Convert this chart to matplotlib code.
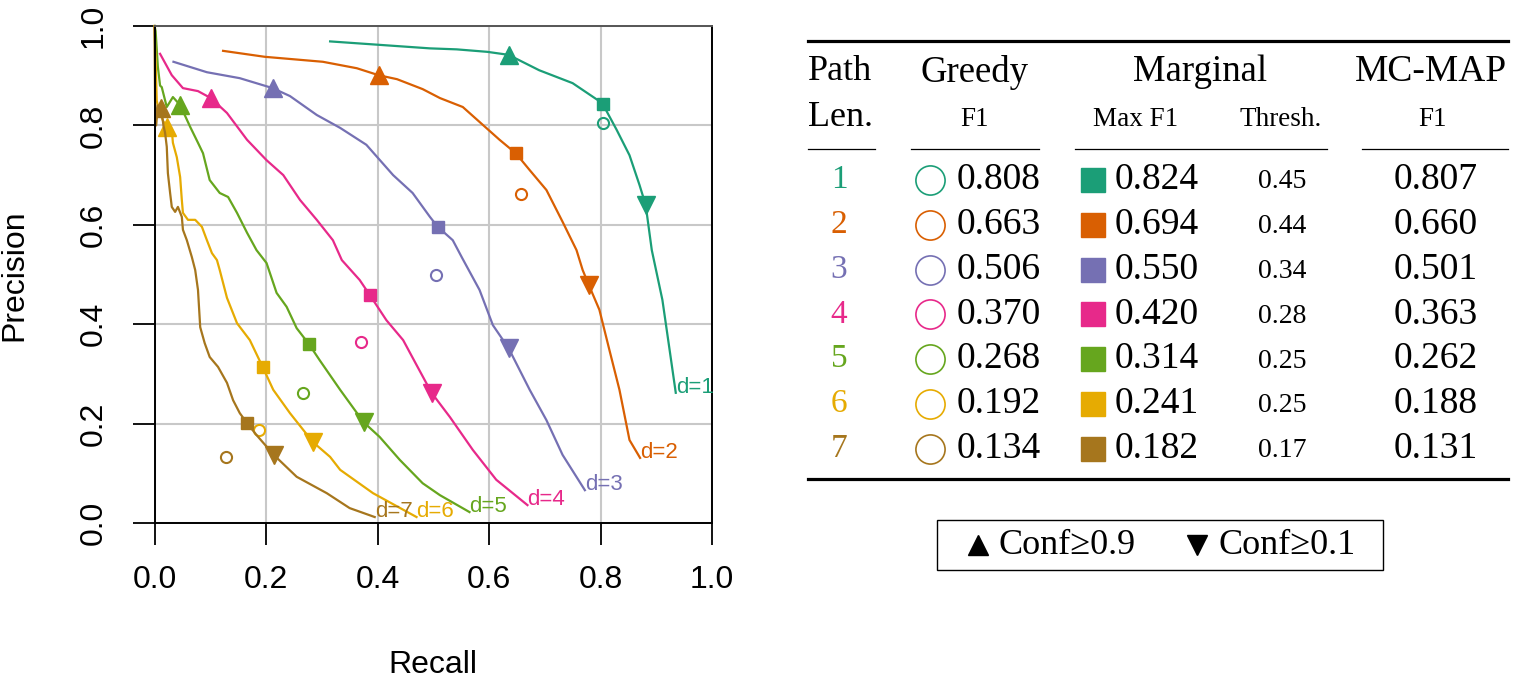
import matplotlib.pyplot as plt
from matplotlib.patches import Rectangle

# Dark2 colours, one per path length
colors = ['#1B9E77', '#D95F02', '#7570B3', '#E7298A', '#66A61E', '#E6AB02', '#A6761D']
path_len = ['1', '2', '3', '4', '5', '6', '7']

# precision/recall curves (recall, precision)
d1_r = [0.315, 0.494, 0.542, 0.597, 0.635, 0.690, 0.750, 0.795, 0.804, 0.829, 0.852, 0.870, 0.881, 0.892, 0.911, 0.924, 0.935]
d1_p = [0.969, 0.955, 0.953, 0.948, 0.942, 0.911, 0.885, 0.851, 0.843, 0.791, 0.740, 0.680, 0.640, 0.549, 0.449, 0.348, 0.262]
d2_r = [0.123, 0.198, 0.302, 0.363, 0.402, 0.435, 0.481, 0.512, 0.553, 0.589, 0.619, 0.648, 0.673, 0.703, 0.732, 0.757, 0.768, 0.779, 0.798, 0.816, 0.834, 0.852, 0.871]
d2_p = [0.950, 0.938, 0.928, 0.915, 0.901, 0.893, 0.873, 0.855, 0.837, 0.801, 0.771, 0.744, 0.710, 0.670, 0.606, 0.549, 0.509, 0.479, 0.429, 0.348, 0.268, 0.167, 0.131]
d3_r = [0.034, 0.094, 0.153, 0.212, 0.243, 0.291, 0.333, 0.380, 0.428, 0.463, 0.494, 0.508, 0.535, 0.552, 0.583, 0.607, 0.635, 0.673, 0.703, 0.732, 0.772]
d3_p = [0.928, 0.907, 0.895, 0.875, 0.859, 0.821, 0.795, 0.761, 0.700, 0.664, 0.616, 0.596, 0.569, 0.533, 0.469, 0.398, 0.352, 0.268, 0.207, 0.137, 0.066]
d4_r = [0.010, 0.031, 0.051, 0.078, 0.101, 0.130, 0.166, 0.201, 0.231, 0.261, 0.291, 0.320, 0.336, 0.368, 0.386, 0.416, 0.446, 0.470, 0.497, 0.530, 0.571, 0.613, 0.669]
d4_p = [0.944, 0.901, 0.875, 0.869, 0.855, 0.825, 0.771, 0.730, 0.700, 0.650, 0.610, 0.569, 0.529, 0.489, 0.459, 0.408, 0.368, 0.318, 0.262, 0.213, 0.147, 0.087, 0.036]
d5_r = [0.000, 0.002, 0.006, 0.010, 0.013, 0.022, 0.033, 0.046, 0.064, 0.078, 0.087, 0.099, 0.117, 0.132, 0.148, 0.166, 0.183, 0.201, 0.219, 0.237, 0.255, 0.277, 0.296, 0.333, 0.375, 0.404, 0.440, 0.481, 0.512, 0.565]
d5_p = [1.000, 0.990, 0.918, 0.880, 0.877, 0.837, 0.857, 0.841, 0.797, 0.765, 0.744, 0.690, 0.664, 0.656, 0.624, 0.584, 0.549, 0.523, 0.463, 0.435, 0.392, 0.360, 0.328, 0.268, 0.203, 0.173, 0.127, 0.080, 0.056, 0.022]
d6_r = [0.000, 0.002, 0.004, 0.008, 0.015, 0.022, 0.031, 0.033, 0.040, 0.046, 0.049, 0.051, 0.060, 0.073, 0.085, 0.094, 0.103, 0.112, 0.117, 0.130, 0.148, 0.171, 0.194, 0.213, 0.243, 0.284, 0.315, 0.333, 0.392, 0.470]
d6_p = [1.000, 0.930, 0.850, 0.830, 0.810, 0.797, 0.791, 0.765, 0.736, 0.696, 0.650, 0.624, 0.610, 0.610, 0.596, 0.569, 0.543, 0.529, 0.509, 0.453, 0.402, 0.368, 0.314, 0.268, 0.221, 0.163, 0.133, 0.107, 0.060, 0.012]
d7_r = [0.000, 0.001, 0.003, 0.006, 0.012, 0.016, 0.019, 0.022, 0.024, 0.028, 0.031, 0.037, 0.042, 0.049, 0.051, 0.058, 0.067, 0.073, 0.078, 0.082, 0.090, 0.099, 0.114, 0.130, 0.141, 0.153, 0.166, 0.183, 0.214, 0.255, 0.309, 0.350, 0.395]
d7_p = [1.000, 0.850, 0.800, 0.840, 0.835, 0.800, 0.785, 0.757, 0.704, 0.664, 0.636, 0.626, 0.636, 0.616, 0.590, 0.569, 0.535, 0.509, 0.469, 0.394, 0.362, 0.334, 0.314, 0.282, 0.247, 0.221, 0.201, 0.177, 0.137, 0.093, 0.060, 0.030, 0.012]
curves_r = [d1_r, d2_r, d3_r, d4_r, d5_r, d6_r, d7_r]
curves_p = [d1_p, d2_p, d3_p, d4_p, d5_p, d6_p, d7_p]

# operating points (recall, precision)
conf09_r = [0.635, 0.402, 0.212, 0.101, 0.046, 0.022, 0.012]
conf09_p = [0.942, 0.901, 0.875, 0.855, 0.841, 0.797, 0.835]
conf01_r = [0.881, 0.779, 0.635, 0.497, 0.375, 0.284, 0.214]
conf01_p = [0.640, 0.479, 0.352, 0.262, 0.203, 0.163, 0.137]
maxf1_r = [0.804, 0.648, 0.508, 0.386, 0.277, 0.194, 0.166]
maxf1_p = [0.843, 0.744, 0.596, 0.459, 0.360, 0.314, 0.201]
greedy_r = [0.804, 0.657, 0.505, 0.370, 0.267, 0.187, 0.128]
greedy_p = [0.805, 0.662, 0.499, 0.364, 0.262, 0.187, 0.133]

# table values
greedy_f1 = ['0.808', '0.663', '0.506', '0.370', '0.268', '0.192', '0.134']
marg_f1 = ['0.824', '0.694', '0.550', '0.420', '0.314', '0.241', '0.182']
marg_thr = ['0.45', '0.44', '0.34', '0.28', '0.25', '0.25', '0.17']
mcmap_f1 = ['0.807', '0.660', '0.501', '0.363', '0.262', '0.188', '0.131']

plt.rcParams['font.family'] = 'Liberation Sans'
W, H = 1513, 678
fig = plt.figure(figsize=(W / 100, H / 100), dpi=100)

ax = fig.add_axes([154.5 / W, (H - 523) / H, 557.5 / W, 497 / H])
ax.set_xlim(0, 1)
ax.set_ylim(0, 1)
ax.grid(color='#c8c8c8', lw=1.5)
ax.set_axisbelow(True)
for s in ax.spines.values():
    s.set_color('black')
    s.set_linewidth(1.4)
ax.spines['top'].set_color('#555555')

ticks = [0.0, 0.2, 0.4, 0.6, 0.8, 1.0]
tick_labels = ['0.0', '0.2', '0.4', '0.6', '0.8', '1.0']
ax.set_xticks(ticks, tick_labels)
ax.set_yticks(ticks, tick_labels)
ax.tick_params(direction='out', length=16, width=1.3, labelsize=23, pad=14)
ax.tick_params(axis='y', labelrotation=90, pad=17)
for lab in ax.get_yticklabels():
    lab.set_verticalalignment('center')

for i in range(7):
    c = colors[i]
    ax.plot(curves_r[i], curves_p[i], color=c, lw=1.6, clip_on=False)
    ax.text(curves_r[i][-1], curves_p[i][-1], 'd=' + path_len[i], color=c,
            fontsize=16, ha='left', va='baseline')
    ax.plot(conf09_r[i], conf09_p[i], marker='^', color=c, ms=13, ls='none')
    ax.plot(conf01_r[i], conf01_p[i], marker='v', color=c, ms=13, ls='none')
    ax.plot(maxf1_r[i], maxf1_p[i], marker='s', color=c, ms=9, ls='none')
    ax.plot(greedy_r[i], greedy_p[i], marker='o', mfc='none', mec=c, mew=1.5, ms=8, ls='none')

fig.text(433 / W, 1 - 665 / H, 'Recall', fontsize=23, ha='center', va='center')
fig.text(14 / W, 1 - 275 / H, 'Precision', fontsize=23, ha='center', va='center', rotation=90)

# table drawn on an overlay in pixel units
tab = fig.add_axes([0, 0, 1, 1])
tab.set_xlim(0, W)
tab.set_ylim(H, 0)
tab.axis('off')
serif = 'Liberation Serif'

tab.plot([808, 1508], [41, 41], color='black', lw=2.3)
tab.plot([808, 1508], [479, 479], color='black', lw=2.3)
for x0, x1 in [(808, 875), (911, 1039), (1075, 1327), (1362, 1508)]:
    tab.plot([x0, x1], [149, 149], color='black', lw=0.9)

tab.text(808, 72, 'Path', family=serif, fontsize=26, ha='left', va='center')
tab.text(808, 118, 'Len.', family=serif, fontsize=26, ha='left', va='center')
tab.text(975, 72, 'Greedy', family=serif, fontsize=26.5, ha='center', va='center')
tab.text(975, 120, 'F1', family=serif, fontsize=19.5, ha='center', va='center')
tab.text(1200, 72, 'Marginal', family=serif, fontsize=26.5, ha='center', va='center')
tab.text(1136, 120, 'Max F1', family=serif, fontsize=19.5, ha='center', va='center')
tab.text(1281, 120, 'Thresh.', family=serif, fontsize=19.5, ha='center', va='center')
tab.text(1431, 72, 'MC-MAP', family=serif, fontsize=27, ha='center', va='center')
tab.text(1433, 120, 'F1', family=serif, fontsize=19.5, ha='center', va='center')

for i in range(7):
    y = 180 + 44.8 * i
    c = colors[i]
    tab.text(839, y, path_len[i], family=serif, fontsize=24, color=c, ha='center', va='center')
    tab.plot(930, y, marker='o', mfc='none', mec=c, mew=1.2, ms=21)
    tab.text(957, y, greedy_f1[i], family=serif, fontsize=27, ha='left', va='center')
    tab.plot(1093, y, marker='s', color=c, ms=17)
    tab.text(1115, y, marg_f1[i], family=serif, fontsize=27, ha='left', va='center')
    tab.text(1282, y + 2, marg_thr[i], family=serif, fontsize=20, ha='center', va='center')
    tab.text(1436, y, mcmap_f1[i], family=serif, fontsize=27, ha='center', va='center')

# legend box
tab.add_patch(Rectangle((937, 520), 446, 50, fill=False, ec='black', lw=1.0))
tab.plot(978, 545, marker='^', color='black', ms=15)
tab.text(999, 545, 'Conf\u22650.9', family=serif, fontsize=26, ha='left', va='center')
tab.plot(1197, 545, marker='v', color='black', ms=15)
tab.text(1218, 545, 'Conf\u22650.1', family=serif, fontsize=26, ha='left', va='center')

fig.savefig('out.png', dpi=100)
